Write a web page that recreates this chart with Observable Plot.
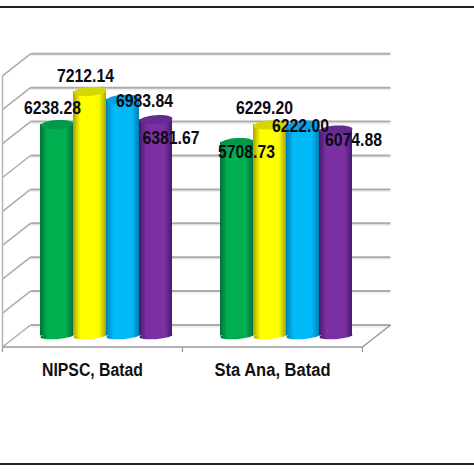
<!DOCTYPE html>
<html>
<head>
<meta charset="utf-8">
<script src="https://cdn.jsdelivr.net/npm/d3@7"></script>
<script src="https://cdn.jsdelivr.net/npm/@observablehq/plot@0.6"></script>
<style>
html,body{margin:0;padding:0;background:#fff;width:474px;height:474px;overflow:hidden;position:relative}
svg{display:block;position:absolute;left:0;top:0;background:transparent}
.hr{position:absolute;left:0;width:474px;height:2px;background:#222}
</style>
</head>
<body>
<div class="hr" style="top:6px"></div>
<div class="hr" style="top:463px"></div>
<div id="chart"></div>
<script>
const categories = ["NIPSC, Batad", "Sta Ana, Batad"];
const seriesNames = ["green", "yellow", "blue", "purple"];
const greenValues = [6238.28, 5708.73];
const yellowValues = [7212.14, 6229.20];
const blueValues = [6983.84, 6222.00];
const purpleValues = [6381.67, 6074.88];
const gridTicks = [0, 1000, 2000, 3000, 4000, 5000, 6000, 7000, 8000];
const labelTexts = [["6238.28", "5708.73"], ["7212.14", "6229.20"], ["6983.84", "6222.00"], ["6381.67", "6074.88"]];

const allValues = [greenValues, yellowValues, blueValues, purpleValues];
// pseudo-3D geometry, in scale units
const depthX = 14 / 180, depthY = 324.5, barW = 33 / 180;
// label nudges in px: series -> category -> [dx, dy]
const labelNudge = [
  [[-4.5, -16], [9.5, 9.5]],
  [[-4.5, -15.5], [-5.5, -16.5]],
  [[21.5, 2], [-2.5, 1]],
  [[15, 19], [17.5, 10]]
];
const palette = [
  {edge: "#00703a", mid: "#00b050", top: "#009a48"},
  {edge: "#a5a500", mid: "#ffff00", top: "#d6d600"},
  {edge: "#007fb5", mid: "#00b9f7", top: "#0a9fe0"},
  {edge: "#46196e", mid: "#7a30a2", top: "#672a90"}
];

function ellipse(k) {
  return {draw(ctx, size) {
    const r = Math.sqrt(size / Math.PI), ry = r * k, c = 0.5523;
    ctx.moveTo(-r, 0);
    ctx.bezierCurveTo(-r, -ry * c, -r * c, -ry, 0, -ry);
    ctx.bezierCurveTo(r * c, -ry, r, -ry * c, r, 0);
    ctx.bezierCurveTo(r, ry * c, r * c, ry, 0, ry);
    ctx.bezierCurveTo(-r * c, ry, -r, ry * c, -r, 0);
    ctx.closePath();
  }};
}
const topSym = ellipse(0.27), bottomSym = ellipse(0.19);

const rows = seriesNames.map((name, s) => categories.map((cat, g) => ({
  cat, g, s, value: allValues[s][g],
  x1: g + 0.5 + (s - 2) * barW,
  x2: g + 0.5 + (s - 1) * barW,
  xc: g + 0.5 + (s - 1.5) * barW,
  label: labelTexts[s][g],
  nudge: labelNudge[s][g]
})));

const gridColor = "#ababab";
const gridRows = gridTicks.map(v => ({v}));

const marks = [
  Plot.link(gridRows, {x1: depthX, x2: 2 + depthX, y1: d => d.v + depthY, y2: d => d.v + depthY, stroke: "#ececec", strokeWidth: 1.5, dy: 1.8}),
  Plot.link(gridRows, {x1: depthX, x2: 2 + depthX, y1: d => d.v + depthY, y2: d => d.v + depthY, stroke: gridColor, strokeWidth: 2}),
  Plot.link(gridRows, {x1: -depthX, x2: depthX, y1: d => d.v - depthY, y2: d => d.v + depthY, stroke: gridColor, strokeWidth: 1.5}),
  Plot.link([0], {x1: -depthX, x2: -depthX, y1: -depthY, y2: 8000 - depthY, stroke: "#b5b5b5", strokeWidth: 1.5}),
  Plot.link([0], {x1: -depthX, x2: 2 - depthX, y1: -depthY, y2: -depthY, stroke: "#999", strokeWidth: 1.5}),
  Plot.link([0], {x1: 2 - depthX, x2: 2 + depthX, y1: -depthY, y2: depthY, stroke: "#999", strokeWidth: 1.5}),
  Plot.link([0, 1, 2], {x1: d => d - depthX, x2: d => d - depthX, y1: -depthY, y2: -depthY - 150, stroke: "#999", strokeWidth: 1.2})
];

rows.forEach((group, s) => {
  marks.push(
    Plot.dot(group, {x: "xc", y: 0, r: 16.5, symbol: bottomSym, rotate: -4, fill: `url(#body${s})`, stroke: "none"}),
    Plot.rectY(group, {x1: "x1", x2: "x2", y1: 0, y2: "value", fill: `url(#body${s})`}),
    Plot.dot(group, {x: "xc", y: "value", r: 16.5, symbol: topSym, rotate: -4, fill: palette[s].top, stroke: "none"})
  );
});

const font = "'Liberation Sans',Arial,sans-serif";
rows.flat().forEach(d => {
  marks.push(Plot.text([d], {x: "xc", y: "value", text: "label", dx: d.nudge[0], dy: d.nudge[1],
    fontSize: 17.5, fontWeight: 700, fontFamily: font, fill: "#0a0a14", className: "val"}));
});

marks.push(Plot.text(categories, {
  x: (d, i) => i + 0.5 - depthX, y: -depthY, text: d => d, dy: 23,
  fontSize: 18, fontWeight: 700, fontFamily: font, fill: "#111", className: "cat"
}));

const chart = Plot.plot({
  width: 474, height: 474,
  marginTop: 0, marginRight: 0, marginBottom: 0, marginLeft: 0,
  x: {domain: [0, 2], range: [16, 376], axis: null},
  y: {domain: [0, 8000], range: [335.5, 64.3], axis: null},
  style: {background: "transparent", overflow: "visible"},
  marks
});

const defs = d3.select(chart).insert("defs", ":first-child");
palette.forEach((p, s) => {
  const g = defs.append("linearGradient").attr("id", `body${s}`).attr("x1", 0).attr("x2", 1).attr("y1", 0).attr("y2", 0);
  [[0, p.edge], [0.22, p.mid], [0.78, p.mid], [1, p.edge]].forEach(([o, c]) =>
    g.append("stop").attr("offset", o).attr("stop-color", c));
});
document.getElementById("chart").appendChild(chart);

// condense the type to the reference's narrow face
const catWidths = {"NIPSC, Batad": 101, "Sta Ana, Batad": 116};
d3.select(chart).selectAll("text").each(function() {
  const t = this.textContent;
  this.setAttribute("textLength", catWidths[t] || 57);
  this.setAttribute("lengthAdjust", "spacingAndGlyphs");
});
</script>
</body>
</html>
